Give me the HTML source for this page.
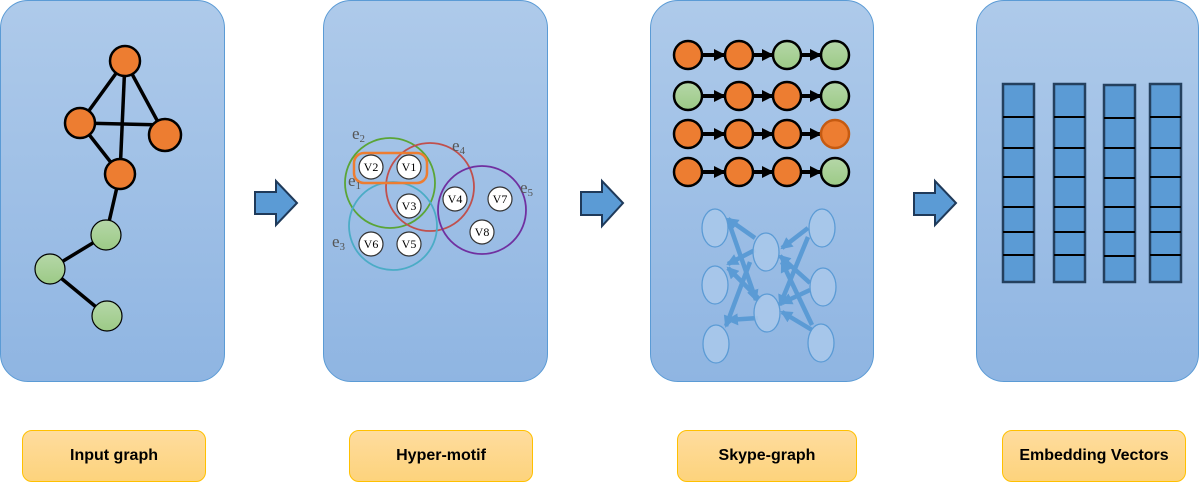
<!DOCTYPE html>
<html><head><meta charset="utf-8"><style>
body{margin:0;width:1200px;height:485px;background:#fff;overflow:hidden;position:relative;font-family:"Liberation Sans",sans-serif}
.p{position:absolute;top:0;height:382px;border:1.5px solid #5b9bd5;border-radius:28px;box-sizing:border-box;background:linear-gradient(#aecaea,#8fb5e2)}
.l{position:absolute;top:430px;height:52px;border:1.5px solid #ffc000;border-radius:10px;box-sizing:border-box;background:linear-gradient(#fedc9e,#fdd37c);display:flex;align-items:center;justify-content:center;font-weight:bold;font-size:16px;color:#000}
svg{position:absolute;left:0;top:0}
</style></head><body>
<div class="p" style="left:0;width:225px"></div>
<div class="p" style="left:323px;width:225px"></div>
<div class="p" style="left:650px;width:224px"></div>
<div class="p" style="left:976px;width:223px"></div>
<div class="l" style="left:22px;width:184px">Input graph</div>
<div class="l" style="left:349px;width:184px">Hyper-motif</div>
<div class="l" style="left:677px;width:180px">Skype-graph</div>
<div class="l" style="left:1002px;width:184px">Embedding Vectors</div>
<svg width="1200" height="485" viewBox="0 0 1200 485">
<defs>
<linearGradient id="g" x1="0" y1="0" x2="0" y2="1"><stop offset="0" stop-color="#b5d7a8"/><stop offset="1" stop-color="#9cca86"/></linearGradient>
<marker id="ah" markerWidth="12" markerHeight="12" refX="11" refY="6" orient="auto" markerUnits="userSpaceOnUse"><path d="M0,0L12,6L0,12z" fill="#000"/></marker>
<marker id="bh" markerWidth="12" markerHeight="12" refX="10" refY="6" orient="auto" markerUnits="userSpaceOnUse"><path d="M0,0L12,6L0,12z" fill="#5b9bd5"/></marker>
</defs>
<g fill="#5b9bd5" stroke="#1f3a5a" stroke-width="2">
<path d="M255,192H276V181L297,203L276,225V214H255Z"/>
<path d="M581,192H602V181L623,203L602,226V215H581Z"/>
<path d="M914,193H935V181L956,203L935,225V215H914Z"/>
</g>
<g stroke="#000" stroke-width="3.5">
<line x1="125" y1="61" x2="80" y2="123"/><line x1="125" y1="61" x2="165" y2="135"/><line x1="125" y1="61" x2="120" y2="174"/>
<line x1="80" y1="123" x2="165" y2="125"/><line x1="80" y1="123" x2="120" y2="174"/>
<line x1="120" y1="174" x2="106" y2="235"/><line x1="106" y1="235" x2="50" y2="269"/><line x1="50" y1="269" x2="107" y2="316"/>
</g>
<g stroke="#000" stroke-width="2.5" fill="#ed7d31">
<circle cx="125" cy="61" r="15"/><circle cx="80" cy="123" r="15"/><circle cx="165" cy="135" r="16"/><circle cx="120" cy="174" r="15"/>
</g>
<g stroke="#000" stroke-width="1.2" fill="url(#g)">
<circle cx="106" cy="235" r="15"/><circle cx="50" cy="269" r="15"/><circle cx="107" cy="316" r="15"/>
</g>
<g fill="none" stroke-width="1.8">
<circle cx="390" cy="183" r="45" stroke="#5aa536"/>
<circle cx="430" cy="187" r="44" stroke="#c0504d"/>
<circle cx="393" cy="226" r="44" stroke="#4bacc6"/>
<circle cx="482" cy="210" r="44" stroke="#7030a0"/>
<rect x="354" y="153" width="73" height="30" rx="10" stroke="#ed7d31" stroke-width="2.5"/>
</g>
<g fill="#fff" stroke="#333" stroke-width="1.2">
<circle cx="371" cy="167" r="12"/><circle cx="409" cy="167" r="12"/><circle cx="409" cy="206" r="12"/><circle cx="455" cy="199" r="12"/><circle cx="500" cy="199" r="12"/><circle cx="482" cy="232" r="12"/><circle cx="371" cy="244" r="12"/><circle cx="409" cy="244" r="12"/>
</g>
<g font-family="Liberation Serif,serif" font-size="12" text-anchor="middle" fill="#000">
<text x="371" y="171">V2</text><text x="409" y="171">V1</text><text x="409" y="210">V3</text><text x="455" y="203">V4</text><text x="500" y="203">V7</text><text x="482" y="236">V8</text><text x="371" y="248">V6</text><text x="409" y="248">V5</text>
</g>
<g font-family="Liberation Serif,serif" font-size="17" fill="#555">
<text x="352" y="139">e<tspan font-size="11" dy="3">2</tspan></text>
<text x="348" y="186">e<tspan font-size="11" dy="3">1</tspan></text>
<text x="452" y="151">e<tspan font-size="11" dy="3">4</tspan></text>
<text x="520" y="193">e<tspan font-size="11" dy="3">5</tspan></text>
<text x="332" y="247">e<tspan font-size="11" dy="3">3</tspan></text>
</g>
<g stroke="#000" stroke-width="4" marker-end="url(#ah)">
<line x1="702" y1="55" x2="725" y2="55"/><line x1="753" y1="55" x2="773" y2="55"/><line x1="801" y1="55" x2="821" y2="55"/>
<line x1="702" y1="96" x2="725" y2="96"/><line x1="753" y1="96" x2="773" y2="96"/><line x1="801" y1="96" x2="821" y2="96"/>
<line x1="702" y1="134" x2="725" y2="134"/><line x1="753" y1="134" x2="773" y2="134"/><line x1="801" y1="134" x2="821" y2="134"/>
<line x1="702" y1="172" x2="725" y2="172"/><line x1="753" y1="172" x2="773" y2="172"/><line x1="801" y1="172" x2="821" y2="172"/>
</g>
<g stroke="#000" stroke-width="2.5">
<circle cx="688" cy="55" r="14" fill="#ed7d31"/><circle cx="739" cy="55" r="14" fill="#ed7d31"/><circle cx="787" cy="55" r="14" fill="url(#g)"/><circle cx="835" cy="55" r="14" fill="url(#g)"/>
<circle cx="688" cy="96" r="14" fill="url(#g)"/><circle cx="739" cy="96" r="14" fill="#ed7d31"/><circle cx="787" cy="96" r="14" fill="#ed7d31"/><circle cx="835" cy="96" r="14" fill="url(#g)"/>
<circle cx="688" cy="134" r="14" fill="#ed7d31"/><circle cx="739" cy="134" r="14" fill="#ed7d31"/><circle cx="787" cy="134" r="14" fill="#ed7d31"/><circle cx="835" cy="134" r="14" fill="#ed7d31" stroke="#c55a11"/>
<circle cx="688" cy="172" r="14" fill="#ed7d31"/><circle cx="739" cy="172" r="14" fill="#ed7d31"/><circle cx="787" cy="172" r="14" fill="#ed7d31"/><circle cx="835" cy="172" r="14" fill="url(#g)"/>
</g>
<g stroke="#5b9bd5" stroke-width="4.5" marker-end="url(#bh)">
<line x1="755" y1="238" x2="728" y2="219"/><line x1="755" y1="250" x2="728" y2="264"/><line x1="750" y1="262" x2="726" y2="326"/>
<line x1="760" y1="300" x2="728" y2="268"/><line x1="758" y1="318" x2="728" y2="320"/><line x1="728" y1="220" x2="756" y2="300"/>
<line x1="808" y1="228" x2="782" y2="248"/><line x1="810" y1="283" x2="780" y2="256"/><line x1="812" y1="325" x2="782" y2="262"/>
<line x1="808" y1="237" x2="780" y2="305"/><line x1="810" y1="290" x2="782" y2="303"/><line x1="812" y1="330" x2="782" y2="312"/>
</g>
<g fill="#a9c8ea" stroke="#5b9bd5" stroke-width="1.3" fill-opacity="0.9">
<ellipse cx="715" cy="228" rx="13" ry="19"/><ellipse cx="715" cy="285" rx="13" ry="19"/><ellipse cx="716" cy="344" rx="13" ry="19"/>
<ellipse cx="766" cy="252" rx="13" ry="19"/><ellipse cx="767" cy="313" rx="13" ry="19"/>
<ellipse cx="822" cy="228" rx="13" ry="19"/><ellipse cx="823" cy="287" rx="13" ry="19"/><ellipse cx="821" cy="343" rx="13" ry="19"/>
</g>
<g fill="#5b9bd5" stroke="#24405e" stroke-width="2.5">
<rect x="1003" y="84" width="31" height="198"/><rect x="1054" y="84" width="31" height="198"/><rect x="1104" y="85" width="31" height="197"/><rect x="1150" y="84" width="31" height="198"/>
</g>
<g stroke="#000" stroke-width="2">
<path d="M1003,117H1034M1003,148H1034M1003,177H1034M1003,207H1034M1003,232H1034M1003,255H1034"/>
<path d="M1054,117H1085M1054,148H1085M1054,177H1085M1054,207H1085M1054,232H1085M1054,255H1085"/>
<path d="M1104,118H1135M1104,148H1135M1104,178H1135M1104,207H1135M1104,232H1135M1104,256H1135"/>
<path d="M1150,117H1181M1150,148H1181M1150,177H1181M1150,207H1181M1150,232H1181M1150,255H1181"/>
</g>
</svg>
</body></html>
